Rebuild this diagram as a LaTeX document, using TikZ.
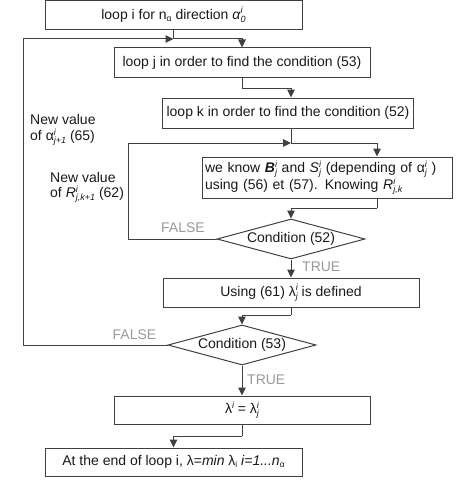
\documentclass[tikz,border=0pt]{standalone}
\usepackage{fontspec}
\setmainfont{Liberation Sans}
\usetikzlibrary{arrows.meta,shapes.geometric}
\newcommand\supsub[2]{{\fontsize{9}{9}\selectfont\itshape\rlap{\raisebox{0.62em}{#1}}\raisebox{-0.32em}{#2}}}
\newcommand\sbs[1]{{\fontsize{8.5}{8.5}\selectfont\raisebox{-0.25em}{#1}}}
\newcommand\sps[1]{{\fontsize{9}{9}\selectfont\itshape\raisebox{0.62em}{#1}}}
\begin{document}
\begin{tikzpicture}[x=1pt,y=-1pt,
  line/.style={draw=black!75,line width=1pt},
  arr/.style={line,-{Triangle[length=8pt,width=7.5pt]}},
  box/.style={line,rectangle,inner sep=0pt,font=\fontsize{14}{16}\selectfont,text=black!90},
  cond/.style={line,diamond,aspect=3.7,inner sep=0pt,font=\fontsize{14}{16}\selectfont,text=black!90},
  lab/.style={font=\fontsize{14}{16}\selectfont,text=black!90,inner sep=0pt,align=left},
  tf/.style={font=\fontsize{14}{16}\selectfont,text=black!40,inner sep=0pt}]
\useasboundingbox (0,0) rectangle (474,487);
% boxes
\node[box,minimum width=257pt,minimum height=29pt] (b1) at (173.5,15) {loop i for n\sbs{α} direction \textit{α}\supsub{i}{0}};
\node[box,minimum width=256pt,minimum height=29pt] (b2) at (242,62.5) {loop j in order to find the condition (53)};
\node[box,minimum width=251pt,minimum height=30pt] (b3) at (288,113) {loop k in order to find the condition (52)};
\node[box,minimum width=250pt,minimum height=41pt,text width=244pt,align=left] (b4) at (327,177.5) {we know \textbf{\textit{B}}\supsub{i}{j} and \textit{S}\supsub{i}{j} (depending of α\supsub{i}{j} )\\[-1pt]using (56) et (57). Knowing \textit{R}\supsub{i}{j,k}};
\node[cond,minimum width=148pt,minimum height=40pt] (d1) at (291,239) {Condition (52)};
\node[box,minimum width=256pt,minimum height=29pt] (b5) at (291,292.5) {Using (61) λ\supsub{i}{j} is defined};
\node[cond,minimum width=148pt,minimum height=40pt] (d2) at (242,345) {Condition (53)};
\node[box,minimum width=256pt,minimum height=28pt] (b6) at (242,410) {λ\sps{i} = λ\supsub{i}{j}};
\node[box,minimum width=257pt,minimum height=28pt] (b7) at (173.5,462) {At the end of loop i, λ=\textit{min} λ\sbs{i} \textit{i=1...n}\sbs{α}};
% helper coordinates
\coordinate (m1) at (173.5,39);
\coordinate (k2) at (242,88);
\coordinate (m2) at (291,143);
\coordinate (k4) at (377,208);
\coordinate (k5) at (291,315);
\coordinate (k6) at (242,436);
\coordinate (L1) at (23,345);
\coordinate (L2) at (128,239);
\coordinate (c291) at (291,0);
\coordinate (c377) at (377,0);
% connectors
\draw[line] (b1.south) -- (m1);
\draw[arr] (m1) -| (b2.north);
\draw[line] (b2.south) -- (k2);
\draw[arr] (k2) -| (c291 |- b3.north);
\draw[line] (c291 |- b3.south) -- (m2);
\draw[arr] (m2) -| (c377 |- b4.north);
\draw[line] (c377 |- b4.south) -- (k4);
\draw[arr] (k4) -| (d1.north);
\draw[arr] (d1.south) -- (b5.north);
\draw[line] (b5.south) -- (k5);
\draw[arr] (k5) -| (d2.north);
\draw[arr] (d2.south) -- (b6.north);
\draw[line] (b6.south) -- (k6);
\draw[arr] (k6) -| (b7.north);
\draw[arr] (d1.west) -- (L2) |- (m2);
\draw[arr] (d2.west) -- (L1) |- (m1);
% labels
\node[tf] (f1) at (183,228) {FALSE};
\node[tf] (f2) at (134.5,335) {FALSE};
\node[tf,anchor=west] (t1) at (302,267) {TRUE};
\node[tf,anchor=west] (t2) at (247,380) {TRUE};
\node[lab,anchor=west] (n1) at (30,119) {New value};
\node[lab,anchor=west] (n2) at (30,137) {of α\supsub{i}{j+1} (65)};
\node[lab,anchor=west] (n3) at (50,177) {New value};
\node[lab,anchor=west] (n4) at (50,194) {of \textit{R}\supsub{i}{j,k+1} (62)};
\end{tikzpicture}
\end{document}
